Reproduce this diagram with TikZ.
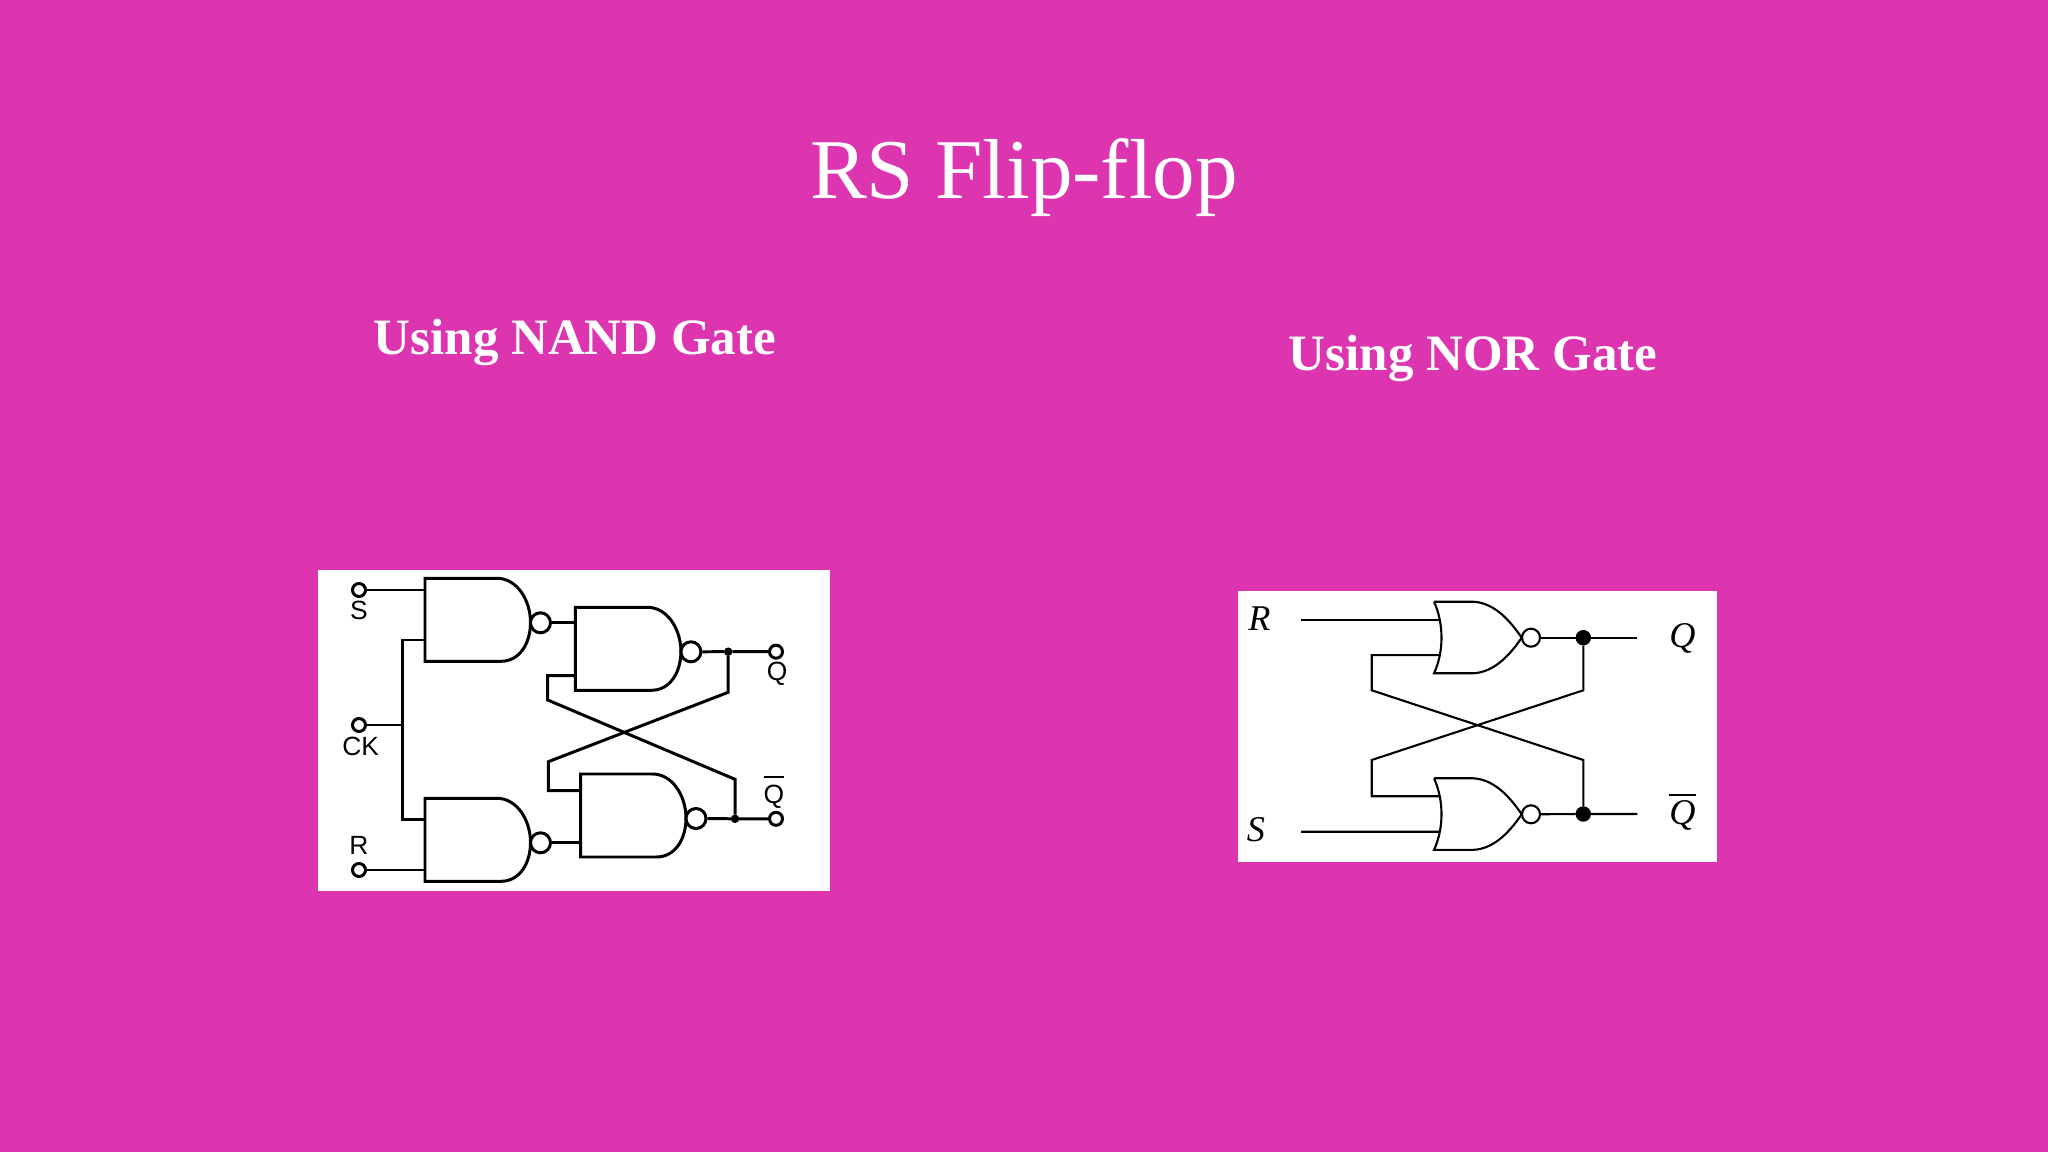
\documentclass[tikz,border=0pt]{standalone}
\usepackage{fontspec}
\setmainfont{Liberation Serif}
\setsansfont{Liberation Sans}
\usepackage{tikz}
\definecolor{slidebg}{RGB}{220,53,175}
\tikzset{
  title/.style={text=white, anchor=base, inner sep=0pt, font=\fontsize{24.2}{29}\selectfont},
  heading/.style={text=white, anchor=base, inner sep=0pt, font=\bfseries\fontsize{14.5}{17}\selectfont},
  term/.style={draw, circle, fill=white, inner sep=0pt, minimum size=0.13cm},
  bubble/.style={draw, circle, fill=white, inner sep=0pt, minimum size=0.2cm},
  dot/.style={draw, circle, fill=black, inner sep=0pt, minimum size=#1},
  lblsf/.style={inner sep=0pt, font=\sffamily\fontsize{7.5}{9}\selectfont},
  lblit/.style={inner sep=0pt, font=\itshape\fontsize{10.3}{12}\selectfont},
  nandwire/.style={line width=0.85pt, line join=miter},
  norwire/.style={line width=0.6pt, line join=miter},
  nandgate/.pic={
    \draw[nandwire] (72,0) -- (0,0) -- (0,83) -- (76,83)
      .. controls (94,83) and (105.5,66) .. (105.5,44)
      .. controls (105.5,22) and (92,0) .. (72,0);
    \coordinate (-w) at (0,0);
    \node[bubble, nandwire] (-o) at (115.5,44.5) {};
  },
  norgate/.pic={
    \draw[norwire] (0,0) -- (39,0) .. controls (62,1) and (78,22) .. (87.7,36)
      .. controls (78,50) and (62,70.6) .. (39,71.6) -- (0,71.6)
      .. controls (10,50) and (10,22) .. (0,0);
    \coordinate (-a) at (5,18);
    \coordinate (-b) at (5,53.4);
    \node[bubble, norwire, minimum size=0.18cm] (-o) at (97,36) {};
  }
}
\begin{document}
\begin{tikzpicture}[x=0.01cm, y=-0.01cm]
  \fill[slidebg] (0,0) rectangle (2048,1152);
  \fill[white] (318,570) rectangle (830,891);
  \fill[white] (1238,591) rectangle (1717,861.7);

  \node[title] (t) at (1024,199) {RS Flip-flop};
  \node[heading] (hnand) at (575,355) {Using NAND Gate};
  \node[heading] (hnor) at (1473,371) {Using NOR Gate};

  % NAND version
  \pic (g1) at (425,578.3) {nandgate};
  \pic (g2) at (575.4,607.3) {nandgate};
  \pic (g3) at (425,798.3) {nandgate};
  \pic (g4) at (580.5,774) {nandgate};

  \node[term, nandwire] (s) at (359,590) {};
  \node[term, nandwire] (ck) at (359,725) {};
  \node[term, nandwire] (r) at (359,870) {};
  \node[term, nandwire] (q) at (776,651.7) {};
  \node[term, nandwire] (qb) at (776,818.8) {};
  \node[dot=0.07cm] (dq) at (728.2,651.7) {};
  \node[dot=0.07cm] (dqb) at (735,818.8) {};

  \node[lblsf] (ls) at (359,610.7) {S};
  \node[lblsf] (lck) at (360.7,746.7) {CK};
  \node[lblsf] (lr) at (359,845) {R};
  \node[lblsf] (lq) at (777.2,674) {Q};
  \node[lblsf, anchor=base] (lqb) at (773.8,803) {$\overline{\mbox{\rule{0pt}{6pt}\sffamily Q}}$};

  \coordinate (ckj) at (402.3,725);
  \coordinate (g1b) at (425,640);
  \coordinate (g3b) at (425,819.3);
  \coordinate (g2b) at (575.4,675.7);
  \coordinate (g4a) at (580.5,790.7);

  \draw[nandwire] (s) -- (s -| g1-w);
  \draw[nandwire] (r) -- (r -| g3-w);
  \draw[nandwire] (ck) -- (ckj);
  \draw[nandwire] (g1b) -| (ckj) |- (g3b);
  \draw[nandwire] (g1-o) -- (g1-o -| g2-w);
  \draw[nandwire] (g3-o) -- (g3-o -| g4-w);
  \draw[nandwire] (g2-o) -- (dq) -- (q);
  \draw[nandwire] (g4-o) -- (dqb) -- (qb);
  \draw[nandwire] (g2b) -| (547.7,700) -- (735,779.3) -- (dqb);
  \draw[nandwire] (dq) -- (728.2,692.3) -- (548.3,761.7) |- (g4a);

  % NOR version
  \pic (g5) at (1434,601.7) {norgate};
  \pic (g6) at (1434,778.3) {norgate};

  \coordinate (rin) at (1301,619.7);
  \coordinate (sin) at (1301,831.7);
  \coordinate (qout) at (1637.3,637.7);
  \coordinate (qbout) at (1637.3,814);
  \node[dot=0.14cm] (d5) at (1583.3,637.7) {};
  \node[dot=0.14cm] (d6) at (1583.3,814) {};

  \node[lblit] (lr2) at (1259.3,619) {R};
  \node[lblit] (ls2) at (1256,830) {S};
  \node[lblit] (lq2) at (1682.5,638) {Q};
  \node[lblit, anchor=base] (lqb2) at (1682.5,824) {$\overline{\mbox{\itshape Q}}$};

  \draw[norwire] (rin) -- (g5-a);
  \draw[norwire] (sin) -- (g6-b);
  \draw[norwire] (g5-o) -- (d5) -- (qout);
  \draw[norwire] (g6-o) -- (d6) -- (qbout);
  \draw[norwire] (g5-b) -| (1371.7,690.3) -- (1583.3,760) -- (d6);
  \draw[norwire] (g6-a) -| (1371.7,760) -- (1583.3,690.3) -- (d5);
\end{tikzpicture}
\end{document}
